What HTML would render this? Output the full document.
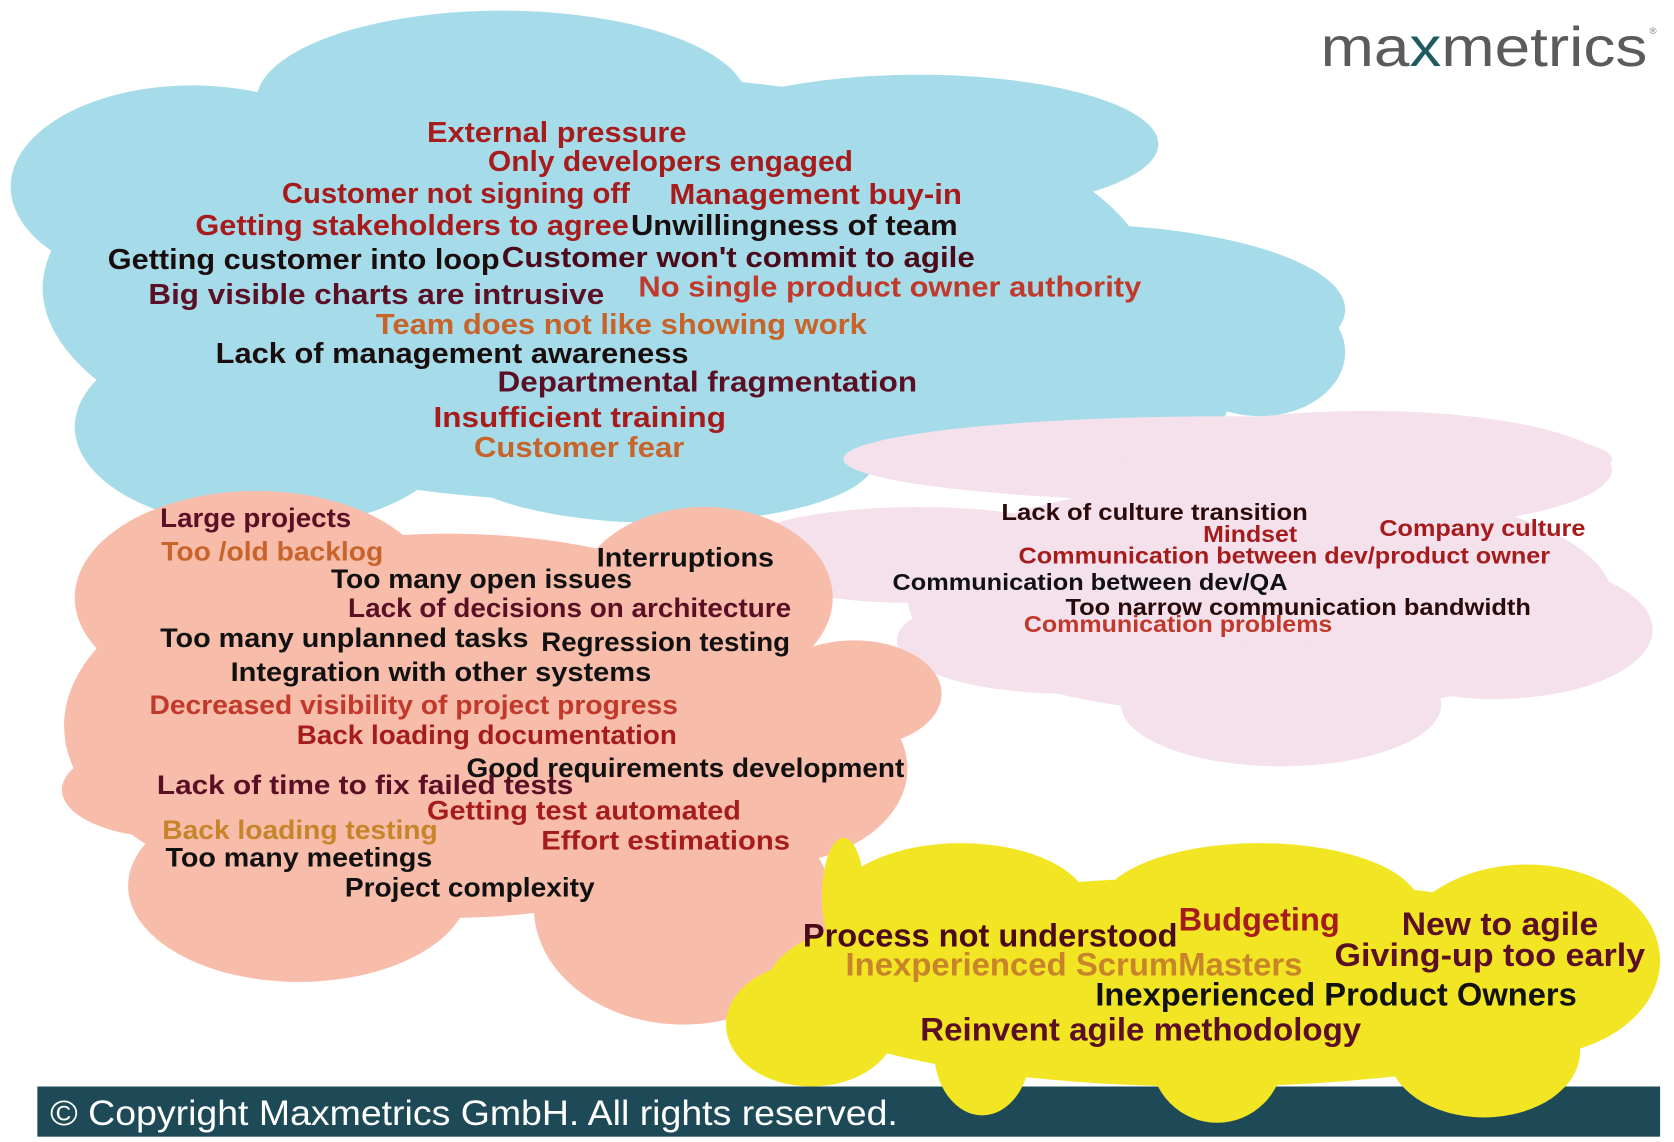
<!DOCTYPE html>
<html><head><meta charset="utf-8"><style>
html,body{margin:0;padding:0;background:#fff;width:1674px;height:1142px;overflow:hidden}
svg{display:block}
text{font-family:"Liberation Sans",sans-serif;font-weight:bold}
</style></head><body>
<svg width="1674" height="1142" viewBox="0 0 1568 1070" preserveAspectRatio="none" xmlns="http://www.w3.org/2000/svg">
<!-- blue cloud -->
<g fill="#a6dce9">
<ellipse cx="560" cy="270" rx="520" ry="200"/>
<ellipse cx="470" cy="95" rx="230" ry="85"/>
<ellipse cx="860" cy="135" rx="225" ry="65"/>
<ellipse cx="180" cy="175" rx="170" ry="95"/>
<ellipse cx="1000" cy="290" rx="260" ry="80"/>
<ellipse cx="1180" cy="330" rx="80" ry="60"/>
<ellipse cx="250" cy="400" rx="180" ry="95"/>
<ellipse cx="620" cy="430" rx="200" ry="60"/>
<ellipse cx="950" cy="380" rx="200" ry="60"/>
</g>
<!-- pink cloud -->
<g fill="#f4e1ec">
<ellipse cx="1150" cy="430" rx="360" ry="40"/>
<ellipse cx="1280" cy="440" rx="230" ry="55"/>
<ellipse cx="1180" cy="560" rx="330" ry="110"/>
<ellipse cx="1400" cy="590" rx="148" ry="65"/>
<ellipse cx="1200" cy="660" rx="150" ry="58"/>
<ellipse cx="860" cy="520" rx="180" ry="45"/>
<ellipse cx="1000" cy="600" rx="160" ry="50"/>
</g>
<!-- salmon cloud -->
<g fill="#f8bcaa">
<ellipse cx="420" cy="680" rx="360" ry="180"/>
<ellipse cx="240" cy="560" rx="170" ry="100"/>
<ellipse cx="660" cy="560" rx="120" ry="85"/>
<ellipse cx="800" cy="650" rx="82" ry="50"/>
<ellipse cx="160" cy="740" rx="102" ry="45"/>
<ellipse cx="280" cy="830" rx="160" ry="90"/>
<ellipse cx="640" cy="850" rx="140" ry="110"/>
<ellipse cx="720" cy="720" rx="130" ry="90"/>
</g>
<!-- footer -->
<rect x="35" y="1018" width="1520" height="47" fill="#1e4a57"/>
<text x="47" y="1054" font-size="33" fill="#fff" style="font-weight:normal" textLength="794" lengthAdjust="spacingAndGlyphs">© Copyright Maxmetrics GmbH. All rights reserved.</text>
<!-- yellow cloud -->
<g fill="#f2e523">
<ellipse cx="1130" cy="920" rx="410" ry="98"/>
<ellipse cx="1430" cy="900" rx="125" ry="90"/>
<ellipse cx="900" cy="850" rx="120" ry="60"/>
<ellipse cx="1180" cy="850" rx="150" ry="60"/>
<ellipse cx="760" cy="960" rx="80" ry="58"/>
<ellipse cx="920" cy="985" rx="45" ry="60"/>
<ellipse cx="1140" cy="990" rx="62" ry="62"/>
<ellipse cx="1390" cy="985" rx="90" ry="62"/>
<ellipse cx="790" cy="840" rx="20" ry="55"/>
</g>
<!-- logo -->
<text x="1237" y="62" font-size="52" fill="#5b5b5b" textLength="306" lengthAdjust="spacingAndGlyphs" style="font-weight:normal">ma<tspan fill="#1e5a5f">x</tspan>metrics</text>
<text x="1545" y="32" font-size="9" fill="#777" style="font-weight:normal">®</text>
<g font-size="27">
<text x="400" y="133" fill="#a61c1c" textLength="243" lengthAdjust="spacingAndGlyphs">External pressure</text>
<text x="457" y="160" fill="#a61c1c" textLength="342" lengthAdjust="spacingAndGlyphs">Only developers engaged</text>
<text x="264" y="190" fill="#a61c1c" textLength="326" lengthAdjust="spacingAndGlyphs">Customer not signing off</text>
<text x="627" y="191" fill="#a61c1c" textLength="274" lengthAdjust="spacingAndGlyphs">Management buy-in</text>
<text x="183" y="220" fill="#a61c1c" textLength="406" lengthAdjust="spacingAndGlyphs">Getting stakeholders to agree</text>
<text x="591" y="220" fill="#1a0d0d" textLength="306" lengthAdjust="spacingAndGlyphs">Unwillingness of team</text>
<text x="101" y="252" fill="#1a0d0d" textLength="367" lengthAdjust="spacingAndGlyphs">Getting customer into loop</text>
<text x="470" y="250" fill="#4a0a1a" textLength="443" lengthAdjust="spacingAndGlyphs">Customer won't commit to agile</text>
<text x="139" y="285" fill="#5a0f25" textLength="427" lengthAdjust="spacingAndGlyphs">Big visible charts are intrusive</text>
<text x="598" y="278" fill="#c0392b" textLength="471" lengthAdjust="spacingAndGlyphs">No single product owner authority</text>
<text x="352" y="313" fill="#c8642a" textLength="460" lengthAdjust="spacingAndGlyphs">Team does not like showing work</text>
<text x="202" y="340" fill="#1a0d0d" textLength="443" lengthAdjust="spacingAndGlyphs">Lack of management awareness</text>
<text x="466" y="367" fill="#5a0f25" textLength="393" lengthAdjust="spacingAndGlyphs">Departmental fragmentation</text>
<text x="406" y="400" fill="#a61c1c" textLength="274" lengthAdjust="spacingAndGlyphs">Insufficient training</text>
<text x="444" y="428" fill="#c8642a" textLength="197" lengthAdjust="spacingAndGlyphs">Customer fear</text>
</g>
<g font-size="22">
<text x="938" y="487" fill="#2a0a0a" textLength="287" lengthAdjust="spacingAndGlyphs">Lack of culture transition</text>
<text x="1127" y="508" fill="#a61c1c" textLength="88" lengthAdjust="spacingAndGlyphs">Mindset</text>
<text x="1292" y="502" fill="#a61c1c" textLength="193" lengthAdjust="spacingAndGlyphs">Company culture</text>
<text x="954" y="528" fill="#a61c1c" textLength="498" lengthAdjust="spacingAndGlyphs">Communication between dev/product owner</text>
<text x="836" y="553" fill="#111" textLength="370" lengthAdjust="spacingAndGlyphs">Communication between dev/QA</text>
<text x="998" y="576" fill="#2a0a0a" textLength="436" lengthAdjust="spacingAndGlyphs">Too narrow communication bandwidth</text>
<text x="959" y="592" fill="#c0392b" textLength="289" lengthAdjust="spacingAndGlyphs">Communication problems</text>
</g>
<g font-size="25">
<text x="150" y="494" fill="#5a0f25" textLength="179" lengthAdjust="spacingAndGlyphs">Large projects</text>
<text x="151" y="525" fill="#c8642a" textLength="208" lengthAdjust="spacingAndGlyphs">Too /old backlog</text>
<text x="559" y="531" fill="#111" textLength="166" lengthAdjust="spacingAndGlyphs">Interruptions</text>
<text x="310" y="551" fill="#111" textLength="282" lengthAdjust="spacingAndGlyphs">Too many open issues</text>
<text x="326" y="578" fill="#5a0f25" textLength="415" lengthAdjust="spacingAndGlyphs">Lack of decisions on architecture</text>
<text x="150" y="606" fill="#111" textLength="345" lengthAdjust="spacingAndGlyphs">Too many unplanned tasks</text>
<text x="507" y="610" fill="#111" textLength="233" lengthAdjust="spacingAndGlyphs">Regression testing</text>
<text x="216" y="638" fill="#111" textLength="394" lengthAdjust="spacingAndGlyphs">Integration with other systems</text>
<text x="140" y="669" fill="#c0392b" textLength="495" lengthAdjust="spacingAndGlyphs">Decreased visibility of project progress</text>
<text x="278" y="697" fill="#a61c1c" textLength="356" lengthAdjust="spacingAndGlyphs">Back loading documentation</text>
<text x="437" y="728" fill="#111" textLength="410" lengthAdjust="spacingAndGlyphs">Good requirements development</text>
<text x="147" y="744" fill="#5a0f25" textLength="390" lengthAdjust="spacingAndGlyphs">Lack of time to fix failed tests</text>
<text x="400" y="768" fill="#a61c1c" textLength="294" lengthAdjust="spacingAndGlyphs">Getting test automated</text>
<text x="152" y="786" fill="#c8842a" textLength="258" lengthAdjust="spacingAndGlyphs">Back loading testing</text>
<text x="507" y="796" fill="#a61c1c" textLength="233" lengthAdjust="spacingAndGlyphs">Effort estimations</text>
<text x="155" y="812" fill="#111" textLength="250" lengthAdjust="spacingAndGlyphs">Too many meetings</text>
<text x="323" y="840" fill="#111" textLength="234" lengthAdjust="spacingAndGlyphs">Project complexity</text>
</g>
<g font-size="30">
<text x="752" y="887" fill="#4a0a1a" textLength="351" lengthAdjust="spacingAndGlyphs">Process not understood</text>
<text x="1104" y="872" fill="#a61c1c" textLength="151" lengthAdjust="spacingAndGlyphs">Budgeting</text>
<text x="1313" y="876" fill="#5a0f25" textLength="184" lengthAdjust="spacingAndGlyphs">New to agile</text>
<text x="1250" y="905" fill="#5a0f25" textLength="291" lengthAdjust="spacingAndGlyphs">Giving-up too early</text>
<text x="792" y="914" fill="#c8842a" textLength="428" lengthAdjust="spacingAndGlyphs">Inexperienced ScrumMasters</text>
<text x="1026" y="942" fill="#111" textLength="451" lengthAdjust="spacingAndGlyphs">Inexperienced Product Owners</text>
<text x="862" y="975" fill="#5a0f25" textLength="413" lengthAdjust="spacingAndGlyphs">Reinvent agile methodology</text>
</g>
</svg>
</body></html>
